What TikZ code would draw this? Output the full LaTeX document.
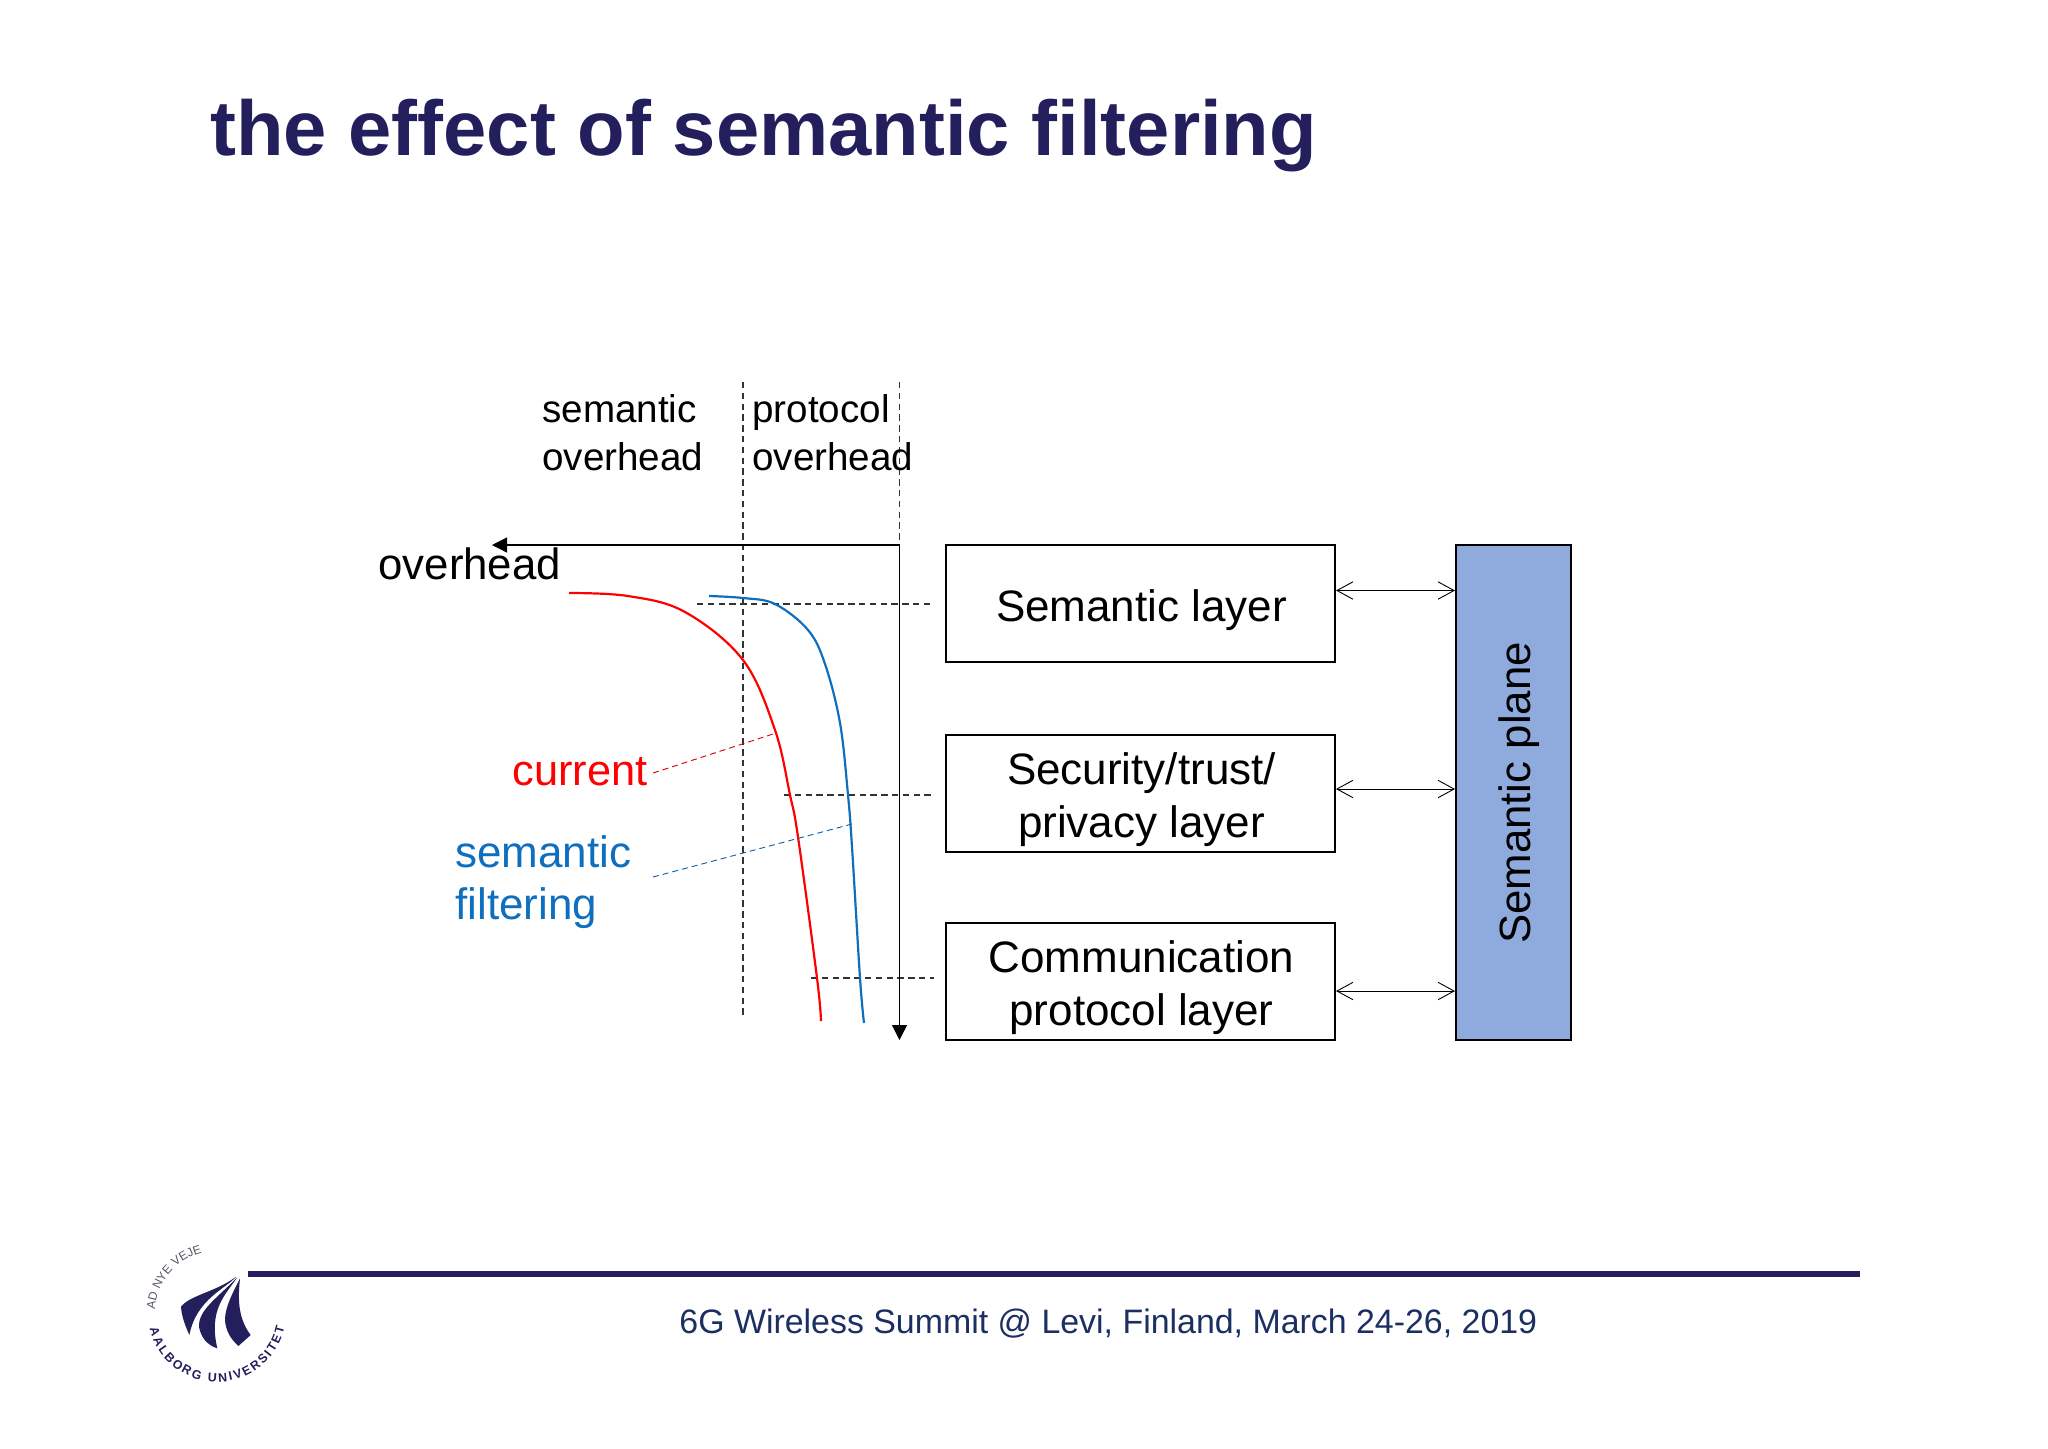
\documentclass[tikz,border=0pt]{standalone}
\usepackage{fontspec}
\setmainfont{Liberation Sans}
\usetikzlibrary{arrows.meta,decorations.text,calc}
\definecolor{navy}{HTML}{231F5C}
\definecolor{foot}{HTML}{1B2F63}
\definecolor{planeblue}{HTML}{8FAADC}
\definecolor{curblue}{HTML}{0F6FBF}
\definecolor{logogray}{HTML}{555566}
\tikzset{
  layerbox/.style={draw=black,line width=1pt,minimum width=194.5pt,minimum height=58.5pt,inner sep=0pt},
  boxtext/.style={inner sep=0pt,align=center,yshift=-3.3pt,xshift=0.5pt,font=\fontsize{22}{26.4}\selectfont},
  guide/.style={draw=black!80,line width=0.55pt,dash pattern=on 3.2pt off 2.2pt},
  axisline/.style={draw=black,line width=0.6pt},
  biarrow/.style={draw=black,line width=0.45pt,{Straight Barb[length=8pt,width=8.7pt]}-{Straight Barb[length=8pt,width=8.7pt]}},
  lab/.style={inner sep=0pt,anchor=base west,align=left},
  curve/.style={line width=1.1pt,line join=round},
  leader/.style={line width=0.45pt,dash pattern=on 3pt off 2pt}
}
\begin{document}
\begin{tikzpicture}[x=0.5pt,y=-0.5pt]
\useasboundingbox (0,0) rectangle (2048,1448);
\fill[white] (0,0) rectangle (2048,1448);
% title
\node[lab,text=navy,font=\fontsize{38.9}{46}\selectfont\bfseries] (title) at (210,155) {the effect of semantic filtering};
% boxes
\node[layerbox] (sem) at (1140.5,603.5) {};
\node[boxtext] (semt) at (sem) {Semantic layer};
\node[layerbox] (sec) at (1140.5,793) {};
\node[boxtext] (sect) at (sec) {Security/trust/\\privacy layer};
\node[layerbox] (com) at (1140.5,981) {};
\node[boxtext] (comt) at (com) {Communication\\protocol layer};
\node[draw=black,line width=1pt,fill=planeblue,minimum width=57.5pt,minimum height=247.5pt,inner sep=0pt] (plane) at (1513.5,792.5) {};
\node[rotate=90,inner sep=0pt,font=\fontsize{21.9}{26}\selectfont] (planetext) at (1519,793) {Semantic plane};
% connectors
\draw[biarrow] ([yshift=6.5pt]sem.east) -- ([yshift=6.5pt]sem.east -| plane.west);
\draw[biarrow] ([yshift=2pt]sec.east) -- ([yshift=2pt]sec.east -| plane.west);
\draw[biarrow] ([yshift=-5pt]com.east) -- ([yshift=-5pt]com.east -| plane.west);
% guides
\coordinate (vaT) at (743,382); \coordinate (vaB) at (743,1015);
\coordinate (vbT) at (899.5,382); \coordinate (origin) at (899.5,545);
\coordinate (axL) at (492,545); \coordinate (axB) at (899.5,1040);
\draw[guide] (vaT) -- (vaB);
\draw[guide] (vbT) -- (origin);
\coordinate (h1) at (697,604); \coordinate (h1e) at (934,604);
\coordinate (h2) at (784,795); \coordinate (h2e) at (934,795);
\coordinate (h3) at (811,978); \coordinate (h3e) at (934,978);
\draw[guide] (h1) -- (h1e);
\draw[guide] (h2) -- (h2e);
\draw[guide] (h3) -- (h3e);
% axes
\draw[axisline,-{Triangle[length=7.5pt,width=7.5pt]}] (origin) -- (axL);
\draw[axisline,-{Triangle[length=7.5pt,width=7.5pt]}] (origin) -- (axB);
% curves
\draw[curve,draw=red] plot[smooth,tension=0.6] coordinates {(569,593) (628,596) (685,612) (743,660) (775,730) (790,795) (798,837) (817,978) (821,1021)};
\draw[curve,draw=curblue] plot[smooth,tension=0.6] coordinates {(709,596) (743,598) (775,604) (808,630) (825,664) (840,723) (848,795) (852,847) (860,978) (864,1023)};
% labels
\node[lab,font=\fontsize{19.3}{23.7}\selectfont] (lsem) at (542,470) {semantic\\overhead};
\node[lab,font=\fontsize{19.3}{23.7}\selectfont] (lpro) at (752,470) {protocol\\overhead};
\node[lab,font=\fontsize{21.9}{26}\selectfont] (lover) at (378,579) {overhead};
\node[lab,text=red,font=\fontsize{21.7}{26}\selectfont] (lcur) at (512,785) {current};
\node[lab,text=curblue,font=\fontsize{22}{26}\selectfont] (lfil) at (455,919) {semantic\\filtering};
\coordinate (rs) at (653,773); \coordinate (re) at (773,734);
\coordinate (bs) at (653,877); \coordinate (be) at (852,824);
\draw[leader,red!85!black] (rs) -- (re);
\draw[leader,curblue!85!black] (bs) -- (be);
% footer
\draw[navy,line width=3pt] (248,1274) -- (1860,1274);
\node[lab,text=foot,font=\fontsize{16.95}{21}\selectfont] (foot) at (679,1333) {6G Wireless Summit @ Levi, Finland, March 24-26, 2019};
% logo
\begin{scope}[shift={(130,1220)},x=0.16667pt,y=-0.16667pt]
\fill[navy] (153,260) .. controls (180,225) and (260,215) .. (318,170) .. controls (290,205) and (200,235) .. (178,345) .. controls (165,315) and (155,290) .. (153,260) -- cycle;
\fill[navy] (207,320) .. controls (205,270) and (260,235) .. (322,172) .. controls (285,225) and (235,270) .. (262,385) .. controls (230,375) and (212,350) .. (207,320) -- cycle;
\fill[navy] (285,300) .. controls (285,260) and (310,215) .. (330,175) .. controls (325,225) and (320,290) .. (362,345) -- (325,378) .. controls (300,355) and (287,330) .. (285,300) -- cycle;
\end{scope}
\coordinate (lc) at (217,1313);
\path[decorate,decoration={text along path,text align=fit to path,text={|\fontsize{6}{7}\selectfont\color{logogray}|AD NYE VEJE}}] ($(lc)+(183:62)$) arc[start angle=183,delta angle=73,radius=62];
\path[decorate,decoration={text along path,text align=fit to path,text={|\fontsize{6.2}{7}\bfseries\selectfont\color{navy}|AALBORG UNIVERSITET}}] ($(lc)+(167:69)$) arc[start angle=167,delta angle=-155,radius=69];
\end{tikzpicture}
\end{document}
